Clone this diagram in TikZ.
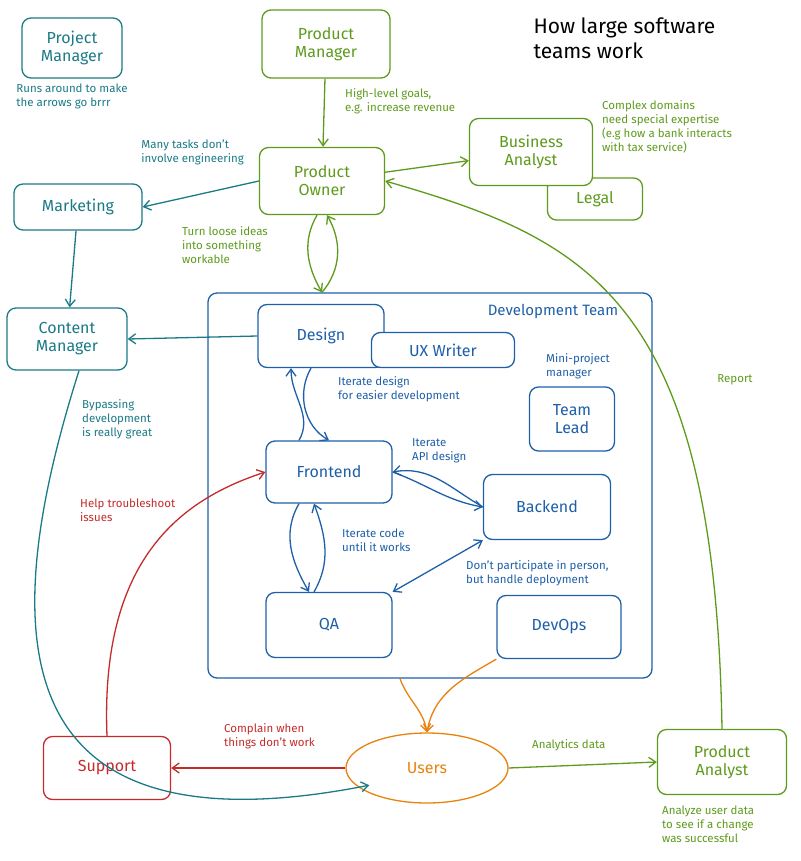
\documentclass[tikz,border=0pt]{standalone}
\usepackage{fontspec}
\setmainfont{Fira Sans}
\usetikzlibrary{arrows.meta,positioning,shapes.geometric}
\definecolor{cteal}{HTML}{1B7A87}
\definecolor{cgreen}{HTML}{5E9B1C}
\definecolor{cblue}{HTML}{1E5FA8}
\definecolor{cred}{HTML}{C42B2B}
\definecolor{corange}{HTML}{E8820C}
\tikzset{
  box/.style={draw,rounded corners=9pt,line width=1.3pt,align=center,
    font=\fontsize{16}{18}\selectfont,inner sep=0pt},
  note/.style={align=left,font=\fontsize{11.5}{14}\selectfont,inner sep=0pt},
  arr/.style={line width=1.3pt,-{Straight Barb[length=7pt,width=10pt]}},
  darr/.style={line width=1.3pt,{Straight Barb[length=7pt,width=10pt]}-{Straight Barb[length=7pt,width=10pt]}}
}
\begin{document}
\begin{tikzpicture}[x=1pt,y=-1pt]
  \useasboundingbox (0,0) rectangle (800,861);
  %
  % Title
  \node[align=left,font=\fontsize{21}{25}\selectfont,anchor=west] (title) at (530,38) {How large software\\teams work};
  %
  % Top
  \node[box,cteal,minimum width=100,minimum height=60] (pjm) at (72,48) {Project\\Manager};
  \node[note,cteal,anchor=north] (pjmnote) at (72,84) {Runs around to make\\the arrows go brrr};
  \node[box,cgreen,minimum width=128,minimum height=68] (pm) at (326,44) {Product\\Manager};
  \node[box,cgreen,minimum width=125,minimum height=67] (po) at (322,181) {Product\\Owner};
  \node[note,cgreen,anchor=west] (goals) at (345,101) {High-level goals,\\e.g. increase revenue};
  \node[box,cgreen,minimum width=95,minimum height=42] (legal) at (595,199) {Legal};
  \node[box,cgreen,fill=white,minimum width=123,minimum height=67] (ba) at (531,152) {Business\\Analyst};
  \node[note,cgreen,anchor=north west] (domains) at (602,100) {Complex domains\\need special expertise\\(e.g how a bank interacts\\with tax service)};
  \node[note,cteal,anchor=east] (tasks) at (244,152) {Many tasks don't\\involve engineering};
  \node[box,cteal,minimum width=128,minimum height=46] (mkt) at (78,207) {Marketing};
  \node[box,cteal,minimum width=120,minimum height=62] (cm) at (67,339) {Content\\Manager};
  \node[note,cgreen,anchor=north west] (loose) at (182,226) {Turn loose ideas\\into something\\workable};
  \node[note,cteal,anchor=north west] (bypass) at (82,399) {Bypassing\\development\\is really great};
  %
  % Development team
  \node[draw,cblue,rounded corners=9pt,line width=1.3pt,minimum width=444,minimum height=385,inner sep=0pt] (team) at (430,485.5) {};
  \node[cblue,font=\fontsize{15}{18}\selectfont] (teamlbl) at (553,311) {Development Team};
  \node[box,cblue,minimum width=126,minimum height=63] (design) at (321,336) {Design};
  \node[box,cblue,fill=white,minimum width=143,minimum height=35] (ux) at (443,350) {UX Writer};
  \node[note,cblue,anchor=west] (mini) at (546,366) {Mini-project\\manager};
  \node[box,cblue,minimum width=85,minimum height=64] (lead) at (572,419) {Team\\Lead};
  \node[note,cblue,anchor=west] (itdesign) at (338,389) {Iterate design\\for easier development};
  \node[box,cblue,minimum width=126,minimum height=62] (fe) at (329,472) {Frontend};
  \node[box,cblue,minimum width=127,minimum height=65] (be) at (547,507) {Backend};
  \node[note,cblue,anchor=west] (itapi) at (412,451) {Iterate\\API design};
  \node[note,cblue,anchor=west] (itcode) at (342,540) {Iterate code\\until it works};
  \node[box,cblue,minimum width=126,minimum height=65] (qa) at (329,625) {QA};
  \node[box,cblue,minimum width=124,minimum height=63] (ops) at (559,627) {DevOps};
  \node[note,cblue,anchor=west] (deploy) at (466,573) {Don't participate in person,\\but handle deployment};
  %
  % Bottom
  \node[draw,corange,ellipse,line width=1.3pt,minimum width=162,minimum height=70,font=\fontsize{16}{18}\selectfont] (users) at (427,768) {Users};
  \node[box,cred,minimum width=127,minimum height=63] (sup) at (107,768) {Support};
  \node[note,cred,anchor=west] (complain) at (224,736) {Complain when\\things don't work};
  \node[note,cred,anchor=west] (help) at (80,510) {Help troubleshoot\\issues};
  \node[box,cgreen,minimum width=129,minimum height=65] (pa) at (722,762) {Product\\Analyst};
  \node[note,cgreen,anchor=west] (analytics) at (532,745) {Analytics data};
  \node[note,cgreen,anchor=north west] (analyze) at (662,806) {Analyze user data\\to see if a change\\was successful};
  \node[note,cgreen] (report) at (735,380) {Report};
  %
  % Connectors
  \draw[arr,cgreen] (pm) -- (po);
  \draw[arr,cgreen] (po) -- (ba);
  \draw[arr,cteal] (po.west) -- (mkt.east);
  \draw[arr,cteal] (mkt) -- (cm);
  \draw[arr,cgreen] ([xshift=-5pt]po.south) to[out=-120,in=120] (team.north -| po.south);
  \draw[arr,cgreen] (team.north -| po.south) to[out=50,in=-60] ([xshift=5pt]po.south);
  \draw[arr,cteal] (design.west) -- (cm.east);
  \draw[arr,cblue] ([xshift=-10pt]design.south) to[out=-120,in=150] (fe.north);
  \draw[arr,cblue] ([xshift=-30pt]fe.north) to[out=60,in=-90] ([xshift=-30pt]design.south);
  \draw[arr,cblue] (fe.east) to[out=-20,in=170] (be.west);
  \draw[arr,cblue] (be.west) to[out=150,in=10] (fe.east);
  \draw[arr,cblue] ([xshift=-30pt]fe.south) to[out=-120,in=120] ([xshift=-20pt]qa.north);
  \draw[arr,cblue] ([xshift=-15pt]qa.north) to[out=60,in=-70] ([xshift=-15pt]fe.south);
  \draw[darr,cblue] (qa.north east) -- (be.south west);
  \draw[arr,corange] ([xshift=-30pt]team.south) to[out=-70,in=100] (users.north);
  \draw[arr,corange] (ops.south west) to[out=-150,in=80] (users.north);
  \draw[arr,cred] (users.west) -- (sup.east);
  \draw[arr,cred] (sup.north) .. controls (100,560) and (180,500) .. (fe.west);
  \draw[arr,cteal] ([xshift=12pt]cm.south) .. controls (0,620) and (-10,860) .. ([yshift=8pt]users.south west);
  \draw[arr,cgreen] (users.east) -- (pa.west);
  \draw[arr,cgreen] (pa.north) .. controls (715,300) and (590,240) .. (po.east);
\end{tikzpicture}
\end{document}
